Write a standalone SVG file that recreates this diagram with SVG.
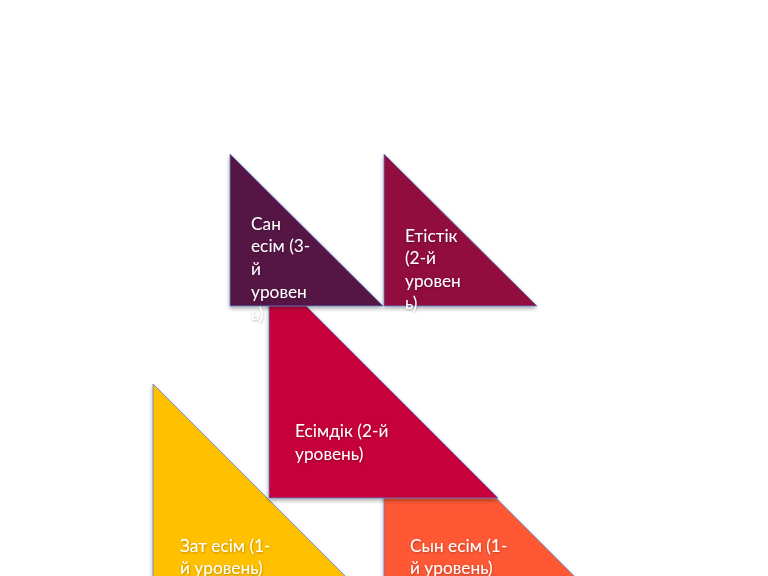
<svg xmlns="http://www.w3.org/2000/svg" width="768" height="576" viewBox="0 0 768 576">
<defs>
<filter id="sh" x="-10%" y="-10%" width="130%" height="130%">
<feDropShadow dx="0" dy="2" stdDeviation="2" flood-color="#000" flood-opacity="0.35"/>
</filter>
<filter id="tsh" x="-20%" y="-20%" width="140%" height="140%">
<feDropShadow dx="0.5" dy="1" stdDeviation="0.8" flood-color="#000" flood-opacity="0.3"/>
</filter>
</defs>
<style>
.tri{stroke:#5b80c8;stroke-width:0.8;filter:url(#sh)}
.lbl{font-family:Lato,"Open Sans","DejaVu Sans",sans-serif;font-size:17.3px;fill:#ffffff;filter:url(#tsh)}
</style>
<rect width="768" height="576" fill="#ffffff"/>
<g id="node-zat">
<polygon class="tri" points="153,384 153,613 382,613" fill="#ffc000"/>
</g>
<g id="node-syn">
<polygon class="tri" points="384,386 384,615 613,615" fill="#fe5935"/>
</g>
<g id="node-esimdik">
<polygon class="tri" points="269,269 269,498 498,498" fill="#c6003a"/>
<text class="lbl" x="295" y="437">Есімдік (2-й</text>
<text class="lbl" x="295" y="460">уровень)</text>
</g>
<g id="node-san">
<polygon class="tri" points="230,154 230,306 383,306" fill="#561845"/>
<text class="lbl" x="251" y="230">Сан</text>
<text class="lbl" x="251" y="252">есім (3-</text>
<text class="lbl" x="251" y="275">й</text>
<text class="lbl" x="251" y="298">уровен</text>
<text class="lbl" x="251" y="320">ь)</text>
</g>
<g id="node-etistik">
<polygon class="tri" points="384,154 384,306 537,306" fill="#900c3e"/>
<text class="lbl" x="405" y="242">Етістік</text>
<text class="lbl" x="405" y="264">(2-й</text>
<text class="lbl" x="405" y="287">уровен</text>
<text class="lbl" x="405" y="309">ь)</text>
</g>
<g id="labels-bottom">
<text class="lbl" x="180" y="552">Зат есім (1-</text>
<text class="lbl" x="180" y="574">й уровень)</text>
<text class="lbl" x="410" y="552">Сын есім (1-</text>
<text class="lbl" x="410" y="574">й уровень)</text>
</g>
<g id="connectors"></g>
</svg>
